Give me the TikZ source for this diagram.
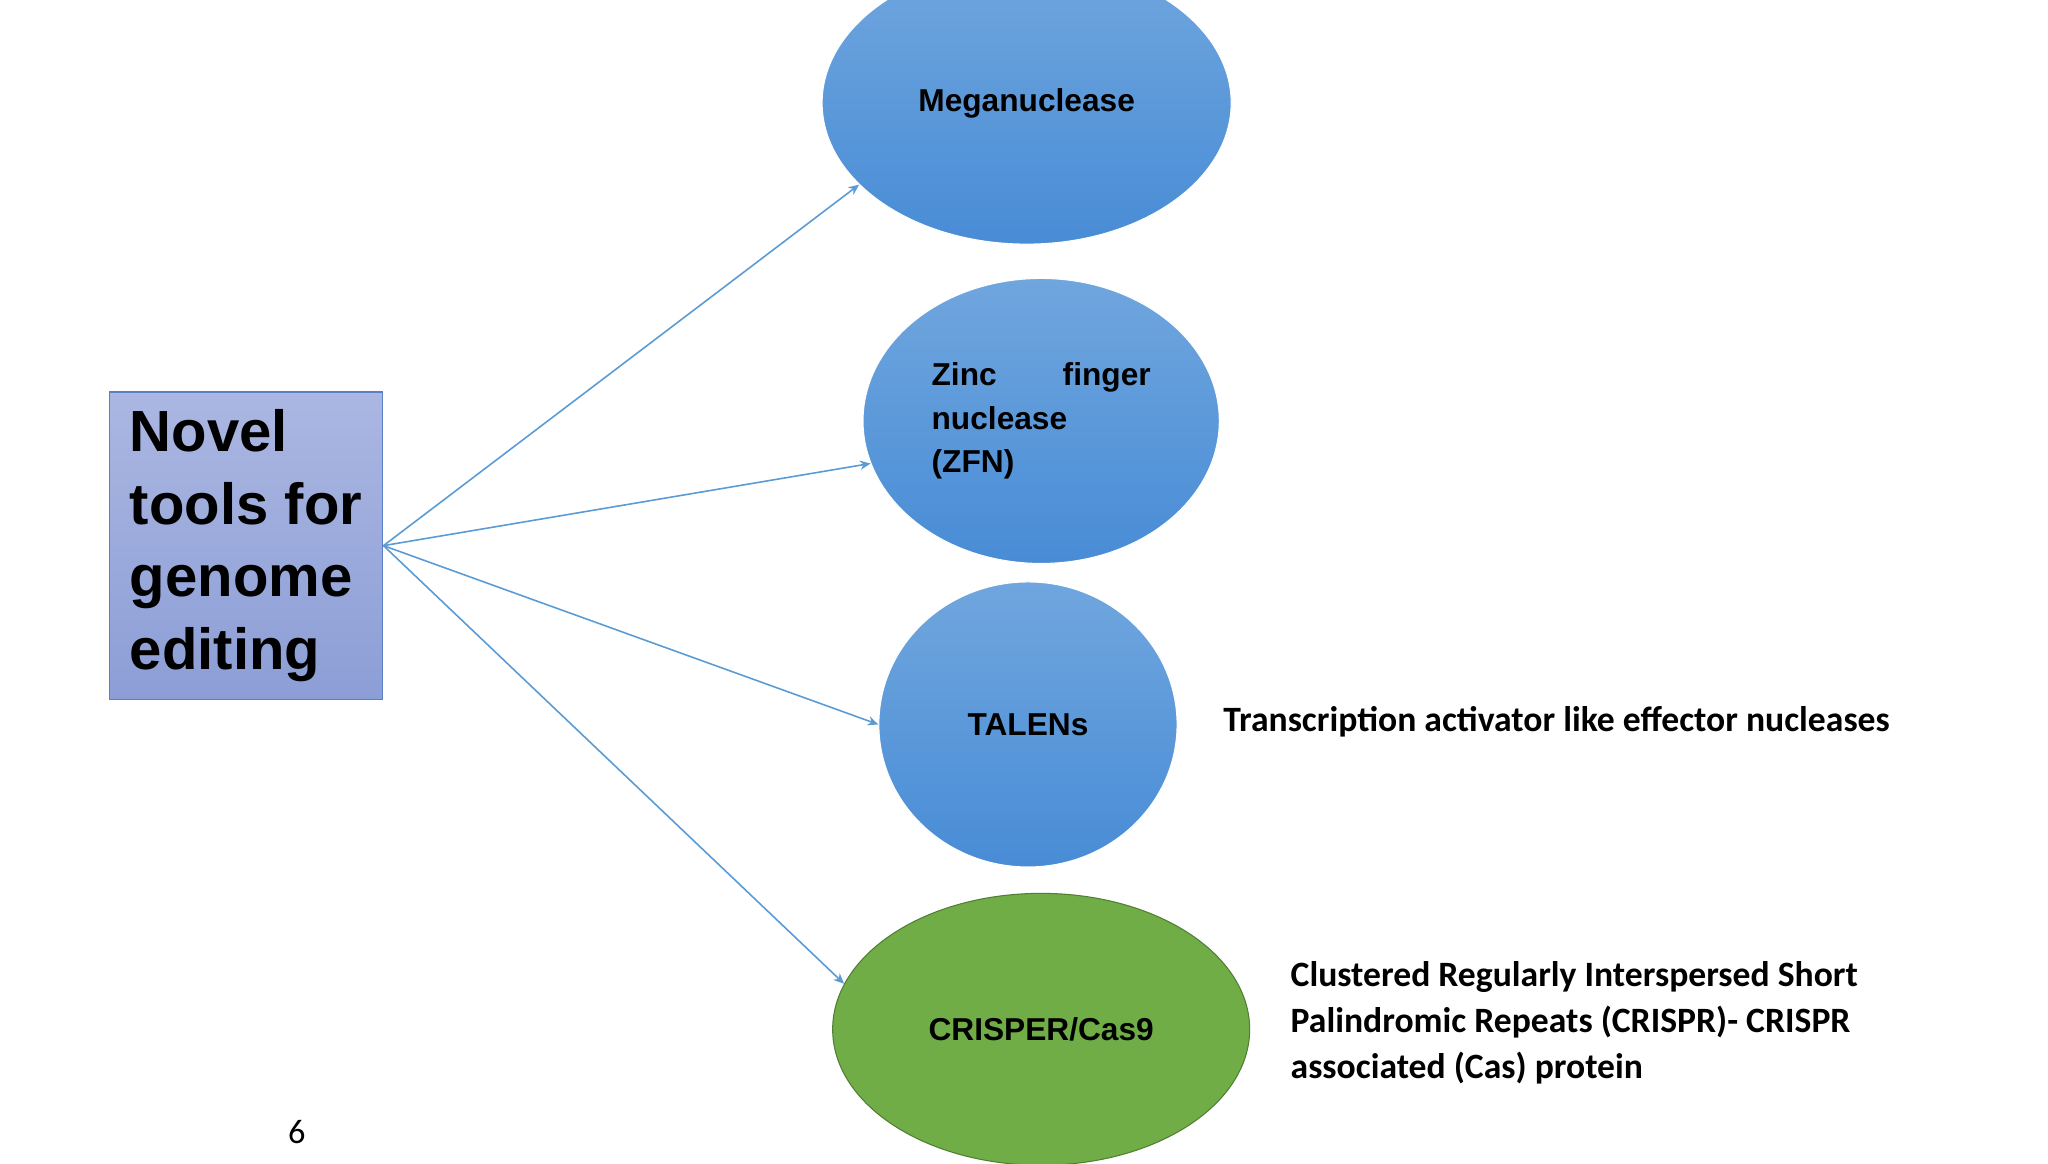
\documentclass[tikz,border=0pt]{standalone}
\usepackage{fontspec}
\setmainfont{Liberation Sans}
\newfontfamily\calib{Carlito}
\usetikzlibrary{shapes.geometric,arrows.meta}
\definecolor{boxtop}{RGB}{171,183,226}
\definecolor{boxbot}{RGB}{140,158,214}
\definecolor{boxline}{RGB}{91,127,199}
\definecolor{balltop}{RGB}{112,166,222}
\definecolor{ballbot}{RGB}{72,140,214}
\definecolor{arrowblue}{RGB}{91,155,213}
\definecolor{crgreen}{RGB}{112,173,71}
\definecolor{crline}{RGB}{80,126,50}
\tikzset{
  tool/.style={ellipse, inner sep=0pt, top color=balltop, bottom color=ballbot,
    draw=white, font=\bfseries\fontsize{12}{16.5}\selectfont},
  link/.style={draw=arrowblue, line width=0.6pt, -{Stealth[length=4pt,width=3.5pt]}},
  note/.style={anchor=west, align=left, font=\calib\bfseries\fontsize{13.5}{17.5}\selectfont}
}
\begin{document}
\begin{tikzpicture}[x=0.5pt,y=-0.5pt]
\useasboundingbox[fill=white] (0,0) rectangle (1552,882);

% source box
\node (box) [draw=boxline, line width=0.6pt, top color=boxtop, bottom color=boxbot,
  minimum width=103.5pt, minimum height=116.5pt, inner sep=0pt,
  align=left, font=\bfseries\fontsize{22}{27.5}\selectfont] at (186.5,413.5)
  {Novel\\tools for\\genome\\editing};

% tools
\node (mega) [tool, minimum width=155pt, minimum height=107pt] at (778,78) {Meganuclease};
\node (zfn) [tool, minimum width=135pt, minimum height=108pt] at (789,319)
  {\parbox{83pt}{Zinc\hfill finger\\nuclease\\(ZFN)}};
\node (talen) [tool, minimum width=113pt, minimum height=108pt] at (779,549) {TALENs};
\node (crispr) [tool, top color=crgreen, bottom color=crgreen, draw=crline,
  minimum width=158pt, minimum height=103pt] at (789,780) {CRISPER/Cas9};

% arrows
\draw [link] (box.east) -- (mega.206);
\draw [link] (box.east) -- (zfn.194);
\draw [link] (box.east) -- (talen.180);
\draw [link] (box.east) -- (crispr.167);

% notes
\node (talennote) [note] at (920,547) {Transcription activator like effector nucleases};
\node (crisprnote) [note] at (971,775) {Clustered Regularly Interspersed Short\\Palindromic Repeats (CRISPR)- CRISPR\\associated (Cas) protein};
\node (page) [font=\calib\fontsize{13}{15}\selectfont] at (225,858) {6};
\end{tikzpicture}
\end{document}
